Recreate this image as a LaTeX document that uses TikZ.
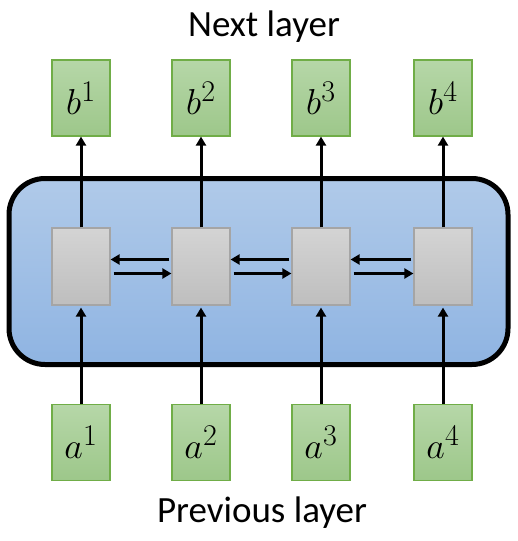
\documentclass[tikz,border=0pt]{standalone}
\usepackage{fontspec}
\setmainfont{Carlito}
\usetikzlibrary{arrows.meta}
\definecolor{gtop}{HTML}{B6D7A8}
\definecolor{gbot}{HTML}{9DC78A}
\definecolor{gline}{HTML}{70AD47}
\definecolor{stop}{HTML}{D4D4D4}
\definecolor{sbot}{HTML}{BEBEBE}
\definecolor{sline}{HTML}{A5A5A5}
\definecolor{btop}{HTML}{B0CAE9}
\definecolor{bbot}{HTML}{8FB4E2}
\newcommand{\bigmath}[1]{\scalebox{1.45}{\Huge$#1$}}
\tikzset{
  vec/.style={draw=gline, line width=1.2pt, top color=gtop, bottom color=gbot,
    minimum width=58pt, minimum height=76pt, inner sep=0pt},
  cell/.style={draw=sline, line width=1.2pt, top color=stop, bottom color=sbot,
    minimum width=58pt, minimum height=77pt, inner sep=0pt},
  arr/.style={line width=3pt, -{Triangle[width=10pt,length=9pt]}},
  title/.style={font=\fontsize{37}{44}\selectfont, inner sep=0pt}
}
\begin{document}
\begin{tikzpicture}[x=1pt,y=-1pt]
\useasboundingbox (0,0) rectangle (518,541);
\node[draw=black, line width=5pt, rounded corners=36pt, top color=btop, bottom color=bbot,
  minimum width=499pt, minimum height=186pt] (layer) at (258.5,271.5) {};
\node[title] (next) at (264,27) {Next layer};
\node[title] (prev) at (262,513) {Previous layer};
\foreach \i/\x in {1/81,2/201,3/321,4/443}{
  \node[vec] (b\i) at (\x,98) {\bigmath{b^{\i}}};
  \node[cell] (g\i) at (\x,266.5) {};
  \node[vec] (a\i) at (\x,442.5) {\bigmath{a^{\i}}};
  \draw[arr] (a\i.north) -- ([yshift=-2pt]g\i.south);
  \draw[arr] (g\i.north) -- (b\i.south);
}
\foreach \i/\j in {1/2,2/3,3/4}{
  \draw[arr] ([xshift=-2pt,yshift=7pt]g\j.west) -- ([yshift=7pt]g\i.east);
  \draw[arr] ([xshift=3pt,yshift=-7pt]g\i.east) -- ([yshift=-7pt]g\j.west);
}
\end{tikzpicture}
\end{document}
